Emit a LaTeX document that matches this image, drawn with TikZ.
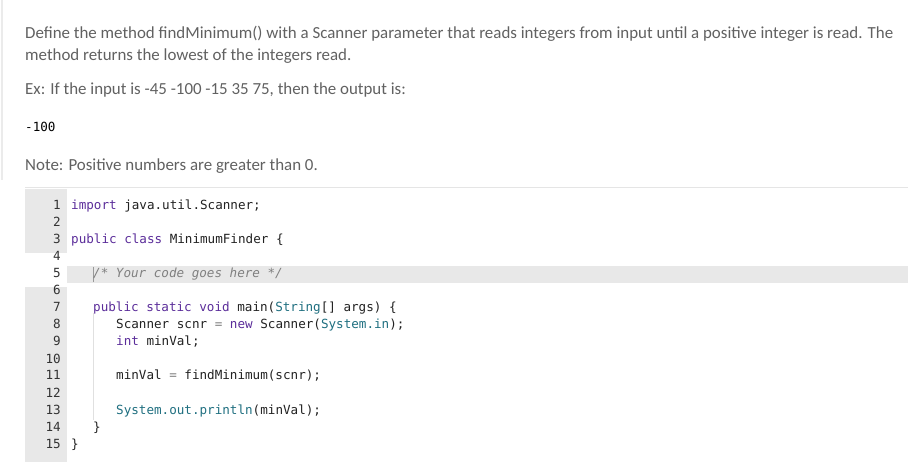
\documentclass[tikz,border=0pt]{standalone}
\usepackage{fontspec}
\setmainfont{Carlito}
\setmonofont{DejaVu Sans Mono}
\begin{document}
\begin{tikzpicture}[x=1pt,y=-1pt,
  prose/.style={anchor=base west,inner sep=0,text=black!62,font=\fontsize{16.9}{18}\selectfont},
  code/.style={anchor=base west,inner sep=0,font=\ttfamily\fontsize{12.6}{14}\selectfont},
  num/.style={anchor=base east,inner sep=0,font=\ttfamily\fontsize{12.6}{14}\selectfont,text=black!80}]
\definecolor{kw}{HTML}{5B2D9A}
\definecolor{ty}{HTML}{1F6F80}
\definecolor{id}{HTML}{222222}
\useasboundingbox (0,0) rectangle (908,462);
\fill[white] (0,0) rectangle (908,462);
\draw[black!8,line width=2] (2,0) -- (2,180);
\node[prose] (p1) at (25,39) {Define the method findMinimum() with a Scanner parameter that reads integers from input until a positive integer is read. The};
\node[prose] (p2) at (25,61) {method returns the lowest of the integers read.};
\node[prose] (p3) at (25,95) {Ex: If the input is -45 -100 -15 35 75, then the output is:};
\node[code,text=black] (o) at (25,132) {-100};
\node[prose] (p4) at (25,171) {Note: Positive numbers are greater than 0.};
% code panel
\draw[black!10,line width=1] (25,188) -- (908,188);
\fill[black!9] (25,189) rectangle (67,462);
\fill[white] (25,253) rectangle (67,287);
\fill[black!9] (67,266) rectangle (908,283);
\draw[black!12] (93,313) -- (93,420);
\draw[black!40] (93,267) -- (93,282);
\foreach \n in {1,...,15} {\node[num] (n\n) at (61,{210+17*(\n-1)}) {\n};}
\node[code] (c1) at (71,210) {\textcolor{kw}{import} \textcolor{id}{java.util.Scanner;}};
\node[code] (c3) at (71,244) {\textcolor{kw}{public class} \textcolor{id}{MinimumFinder \{}};
\node[code] (c5) at (93,278) {\textcolor{black!50}{\itshape/* Your code goes here */}};
\node[code] (c7) at (93,312) {\textcolor{kw}{public static void} \textcolor{id}{main(}\textcolor{ty}{String}\textcolor{id}{[] args) \{}};
\node[code] (c8) at (116,329) {\textcolor{id}{Scanner scnr} \textcolor{black!50}{=} \textcolor{kw}{new} \textcolor{id}{Scanner(}\textcolor{ty}{System.in}\textcolor{id}{);}};
\node[code] (c9) at (116,346) {\textcolor{kw}{int} \textcolor{id}{minVal;}};
\node[code] (c11) at (116,380) {\textcolor{id}{minVal} \textcolor{black!50}{=} \textcolor{id}{findMinimum(scnr);}};
\node[code] (c13) at (116,414) {\textcolor{ty}{System.out.println}\textcolor{id}{(minVal);}};
\node[code] (c14) at (93,431) {\textcolor{id}{\}}};
\node[code] (c15) at (71,448) {\textcolor{id}{\}}};
\end{tikzpicture}
\end{document}
